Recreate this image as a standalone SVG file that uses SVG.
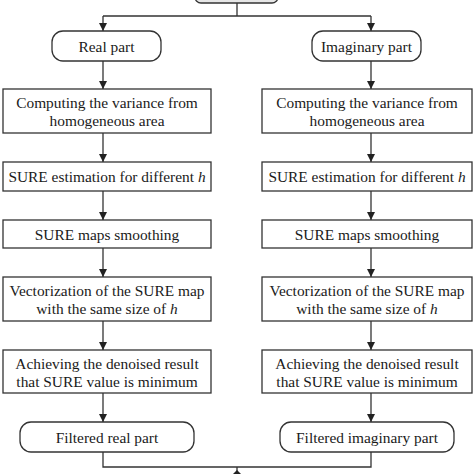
<svg xmlns="http://www.w3.org/2000/svg" width="474" height="474" viewBox="0 0 474 474">
<style>
.box{fill:#fff;stroke:#333;stroke-width:1.3}
.t{font-family:"Liberation Serif","Times New Roman",serif;font-size:15.4px;fill:#1a1a1a;text-anchor:middle}
.c{fill:none;stroke:#333;stroke-width:1.3}
</style>
<defs>
<marker id="a" viewBox="0 0 10 10" refX="10" refY="5" markerWidth="8" markerHeight="8" markerUnits="userSpaceOnUse" orient="auto"><path d="M0,0L10,5L0,10Z" fill="#222"/></marker>
</defs>
<rect width="474" height="474" fill="#fff"/>
<g id="start"><rect x="195" y="-20" width="83" height="23" rx="6" fill="#e6e6e6" stroke="#333" stroke-width="1.3"/></g>
<g id="real"><rect class="box" x="52" y="31" width="109" height="30" rx="11"/><text class="t" x="106.5" y="51.5">Real part</text></g>
<g id="imag"><rect class="box" x="312" y="31" width="109" height="30" rx="11"/><text class="t" x="366.5" y="51.5">Imaginary part</text></g>
<g id="l1"><rect class="box" x="3" y="89" width="208" height="44"/><text class="t" x="107" y="107.5">Computing the variance from</text><text class="t" x="107" y="125.5">homogeneous area</text></g>
<g id="r1"><rect class="box" x="262" y="89" width="210" height="44"/><text class="t" x="367" y="107.5">Computing the variance from</text><text class="t" x="367" y="125.5">homogeneous area</text></g>
<g id="l2"><rect class="box" x="3" y="162" width="208" height="29"/><text class="t" x="107" y="181.5">SURE estimation for different <tspan font-style="italic">h</tspan></text></g>
<g id="r2"><rect class="box" x="262" y="162" width="210" height="29"/><text class="t" x="367" y="181.5">SURE estimation for different <tspan font-style="italic">h</tspan></text></g>
<g id="l3"><rect class="box" x="3" y="220" width="208" height="28"/><text class="t" x="107" y="239.5">SURE maps smoothing</text></g>
<g id="r3"><rect class="box" x="262" y="220" width="210" height="28"/><text class="t" x="367" y="239.5">SURE maps smoothing</text></g>
<g id="l4"><rect class="box" x="3" y="277" width="208" height="44"/><text class="t" x="107" y="295.5">Vectorization of the SURE map</text><text class="t" x="107" y="313.5">with the same size of <tspan font-style="italic">h</tspan></text></g>
<g id="r4"><rect class="box" x="262" y="277" width="210" height="44"/><text class="t" x="367" y="295.5">Vectorization of the SURE map</text><text class="t" x="367" y="313.5">with the same size of <tspan font-style="italic">h</tspan></text></g>
<g id="l5"><rect class="box" x="3" y="350" width="208" height="43"/><text class="t" x="107" y="368.5">Achieving the denoised result</text><text class="t" x="107" y="386.5">that SURE value is minimum</text></g>
<g id="r5"><rect class="box" x="262" y="350" width="210" height="43"/><text class="t" x="367" y="368.5">Achieving the denoised result</text><text class="t" x="367" y="386.5">that SURE value is minimum</text></g>
<g id="lf"><rect class="box" x="20" y="422" width="174" height="30" rx="11"/><text class="t" x="107" y="442.5">Filtered real part</text></g>
<g id="rf"><rect class="box" x="280" y="422" width="174" height="30" rx="11"/><text class="t" x="367" y="442.5">Filtered imaginary part</text></g>
<g id="connectors">
<path class="c" d="M237,3V16M103,16H371"/>
<path class="c" d="M103,16V31" marker-end="url(#a)"/>
<path class="c" d="M371,16V31" marker-end="url(#a)"/>
<path class="c" d="M103,61V89" marker-end="url(#a)"/>
<path class="c" d="M371,61V89" marker-end="url(#a)"/>
<path class="c" d="M103,133V162" marker-end="url(#a)"/>
<path class="c" d="M371,133V162" marker-end="url(#a)"/>
<path class="c" d="M103,191V220" marker-end="url(#a)"/>
<path class="c" d="M371,191V220" marker-end="url(#a)"/>
<path class="c" d="M103,248V277" marker-end="url(#a)"/>
<path class="c" d="M371,248V277" marker-end="url(#a)"/>
<path class="c" d="M103,321V350" marker-end="url(#a)"/>
<path class="c" d="M371,321V350" marker-end="url(#a)"/>
<path class="c" d="M103,393V422" marker-end="url(#a)"/>
<path class="c" d="M371,393V422" marker-end="url(#a)"/>
<path class="c" d="M103,452V467H371V452M237,467V474"/>
<path d="M233,474L237,470L241,474Z" fill="#222"/>
</g>
</svg>
